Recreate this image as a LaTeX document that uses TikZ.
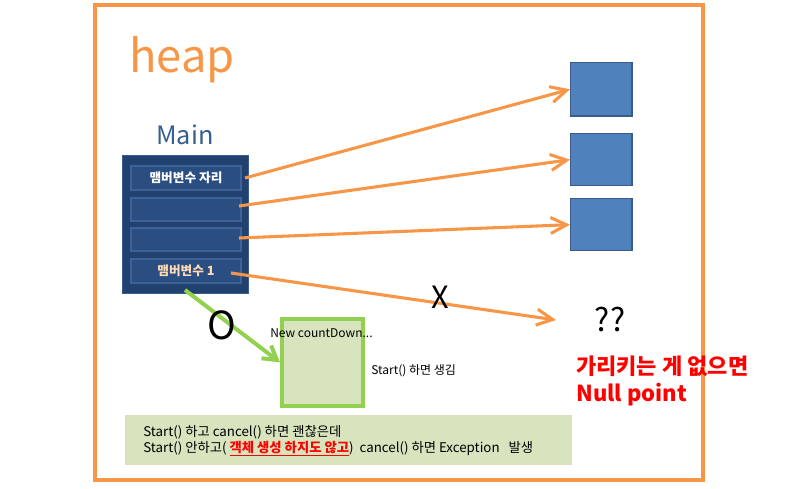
\documentclass[tikz,border=0pt]{standalone}
\usepackage{fontspec}
\setmainfont{Noto Sans CJK KR}
\usetikzlibrary{arrows.meta}
\definecolor{org}{RGB}{247,150,70}
\definecolor{dblue}{RGB}{33,65,112}
\definecolor{rowb}{RGB}{42,78,130}
\definecolor{rowl}{RGB}{62,98,150}
\definecolor{mblue}{RGB}{79,129,189}
\definecolor{bord}{RGB}{56,93,138}
\definecolor{grn}{RGB}{146,208,80}
\definecolor{lgrn}{RGB}{215,228,189}
\definecolor{titleblue}{RGB}{55,96,146}
\begin{document}
\begin{tikzpicture}[x=0.75pt,y=-0.75pt,
  row/.style={draw=rowl,fill=rowb,line width=1.5pt,anchor=north west,minimum width=82.5pt,minimum height=18pt,inner sep=0pt,text=white,font=\fontsize{9.5}{10}\selectfont\bfseries},
  obj/.style={draw=bord,fill=mblue,line width=1pt,anchor=north west,minimum width=46pt,minimum height=40pt,inner sep=0pt},
  oarr/.style={draw=org,line width=2.3pt,-{Straight Barb[length=12pt,width=12pt,line width=2.3pt]}},
  lbl/.style={font=\fontsize{9}{11}\selectfont,inner sep=0pt}]
\useasboundingbox (0,0) rectangle (800,489);
\fill[white] (0,0) rectangle (800,489);
\draw[org,line width=3pt] (95,5) rectangle (703,480);
\node[text=org,font=\fontsize{34}{36}\selectfont,inner sep=0pt] (heap) at (182,60) {heap};
\node[text=titleblue,font=\fontsize{19}{22}\selectfont,inner sep=0pt] (mainlbl) at (185,135) {Main};
\node[draw=bord,fill=dblue,line width=1pt,anchor=north west,minimum width=94.5pt,minimum height=103.5pt,inner sep=0pt] (main) at (122,155) {};
\node[row] (r1) at (130,165) {맴버변수 자리};
\node[row,minimum height=17pt] (r2) at (130,197) {};
\node[row,minimum height=17pt] (r3) at (130,227) {};
\node[row,text=orange!30!white] (r4) at (130,258) {맴버변수 1};
\node[obj] (b1) at (570,62) {};
\node[obj,minimum height=39pt] (b2) at (570,133) {};
\node[obj,minimum height=39pt] (b3) at (570,198) {};
\coordinate (s1) at (245,178);
\coordinate (s2) at (239,206);
\coordinate (s3) at (239,238);
\coordinate (s4) at (231,273);
\coordinate (q) at (556,320);
\draw[oarr] (s1) -- (b1.west);
\draw[oarr] (s2) -- (b2.west);
\draw[oarr] (s3) -- (b3.west);
\draw[oarr] (s4) -- (q);
\node[font=\fontsize{23}{24}\selectfont,inner sep=0pt] (x) at (440,297) {X};
\node[font=\fontsize{24}{26}\selectfont,inner sep=0pt] (qq) at (610,320) {??};
\node[text=red,font=\fontsize{16.5}{20}\selectfont\bfseries,align=left,anchor=west,inner sep=0pt] (null) at (576,381) {가리키는 게 없으면\\Null point};
\node[draw=grn,fill=lgrn,line width=3pt,anchor=north west,minimum width=61pt,minimum height=65pt,inner sep=0pt] (cd) at (280,317) {};
\coordinate (g0) at (185,290);
\draw[grn,line width=3pt,-{Straight Barb[length=10pt,width=12pt,line width=3pt]}] (g0) -- (cd.west);
\node[font=\fontsize{29}{30}\selectfont,inner sep=0pt] (o) at (222,325) {O};
\node[lbl,anchor=west] (nc) at (270,333) {New countDown...};
\node[lbl,anchor=west] (st) at (371,371) {Start() 하면 생김};
\node[fill=lgrn,anchor=north west,minimum width=335pt,minimum height=37.5pt,inner sep=0pt] (note) at (125,415) {};
\node[lbl,font=\fontsize{10}{12}\selectfont,anchor=west,align=left] (nt) at (143,441) {Start() 하고 cancel() 하면 괜찮은데\\Start() 안하고( {\color{red}\bfseries\underline{객체 생성 하지도 않고}})\ \ cancel() 하면 Exception\ \ \ 발생};
\end{tikzpicture}
\end{document}
